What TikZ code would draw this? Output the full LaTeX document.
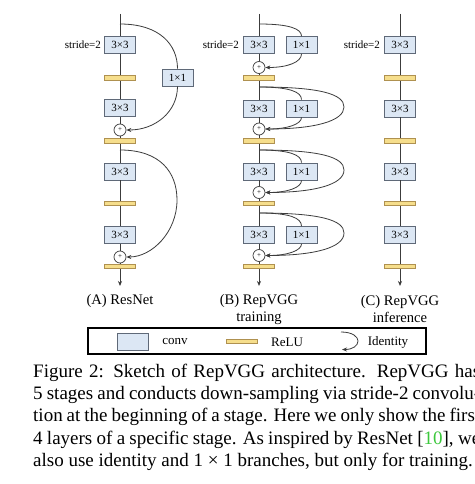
\documentclass[tikz,border=0pt]{standalone}
\usepackage{fontspec}
\setmainfont{Liberation Serif}
\usetikzlibrary{arrows.meta}
\definecolor{ln}{RGB}{60,60,60}
\definecolor{convfill}{RGB}{220,231,244}
\definecolor{convdraw}{RGB}{95,105,120}
\definecolor{relufill}{RGB}{246,222,140}
\definecolor{reludraw}{RGB}{175,145,80}
\definecolor{citegreen}{RGB}{60,200,60}
\tikzset{
  conv/.style={draw=convdraw, fill=convfill, minimum width=31pt, minimum height=17pt, inner sep=0pt, line width=0.8pt, font=\fontsize{11}{13}\selectfont},
  relu/.style={draw=reludraw, fill=relufill, minimum width=31pt, minimum height=4.5pt, inner sep=0pt, line width=0.8pt},
  addnode/.style={circle, draw=ln, fill=white, minimum size=12pt, inner sep=0pt, line width=0.7pt, font=\fontsize{7}{7}\selectfont},
  flow/.style={draw=ln, line width=0.8pt},
  flowend/.style={draw=ln, line width=0.8pt, -{Stealth[length=5pt,width=4pt]}},
  branch/.style={draw=ln, line width=0.8pt, -{Stealth[length=5pt,width=4pt]}},
  stridelabel/.style={anchor=east, inner sep=0pt, font=\fontsize{11}{13}\selectfont},
  sublabel/.style={inner sep=0pt, font=\fontsize{14.6}{17}\selectfont, align=center},
  legtext/.style={inner sep=0pt, font=\fontsize{13}{15}\selectfont},
  capline/.style={anchor=base west, inner sep=0pt, font=\fontsize{19}{22.4}\selectfont}
}
\begin{document}
\begin{tikzpicture}[x=1pt,y=-1pt]
\useasboundingbox (0,0) rectangle (474,484);
\fill[white] (0,0) rectangle (474,484);

% ---------------- (A) ResNet ----------------
\coordinate (aT) at (120,14);
\coordinate (as1) at (120,24);
\node[conv] (a1) at (120,45) {3×3};
\node[stridelabel] (as) at ([xshift=-3pt]a1.west) {stride=2};
\node[relu] (ar1) at (120,78) {};
\node[conv] (a2) at (120,108) {3×3};
\node[addnode] (ap1) at (120,130) {+};
\node[relu] (ar2) at (120,141) {};
\coordinate (as2) at (120,150);
\node[conv] (a3) at (120,171.5) {3×3};
\node[relu] (ar3) at (120,203.5) {};
\node[conv] (a4) at (120,235) {3×3};
\node[addnode] (ap2) at (120,257) {+};
\node[relu] (ar4) at (120,266.5) {};
\coordinate (aE) at (120,286);
\node[conv] (a11) at (177.5,77.5) {1×1};

\draw[flow] (aT) -- (a1) -- (ar1) -- (a2) -- (ap1) -- (ar2) -- (a3) -- (ar3) -- (a4) -- (ap2) -- (ar4);
\draw[flowend] (ar4) -- (aE);
\draw[flow] (as1) .. controls (160,24) and (177.5,45) .. (a11.north);
\draw[branch] (a11.south) .. controls (177.5,112) and (155,130) .. (ap1.east);
\draw[branch] (as2) .. controls (160,150) and (177,172) .. (177,200) .. controls (177,232) and (152,257) .. (ap2.east);

% ---------------- (B) RepVGG training ----------------
\coordinate (bT) at (259,14);
\coordinate (bs1) at (259,24);
\node[conv] (b1) at (259,45) {3×3};
\node[stridelabel] (bsl) at ([xshift=-4pt]b1.west) {stride=2};
\node[conv] (b11) at (301.5,45) {1×1};
\node[addnode] (bp1) at (259,67.5) {+};
\node[relu] (br1) at (259,78) {};
\coordinate (bs2) at (259,87);
\node[conv] (b2) at (259,108.5) {3×3};
\node[conv] (b21) at (301.5,108.5) {1×1};
\node[addnode] (bp2) at (259,129) {+};
\node[relu] (br2) at (259,141) {};
\coordinate (bs3) at (259,150);
\node[conv] (b3) at (259,171.5) {3×3};
\node[conv] (b31) at (301.5,171.5) {1×1};
\node[addnode] (bp3) at (259,192.5) {+};
\node[relu] (br3) at (259,203.5) {};
\coordinate (bs4) at (259,213);
\node[conv] (b4) at (259,235) {3×3};
\node[conv] (b41) at (301.5,235) {1×1};
\node[addnode] (bp4) at (259,255.5) {+};
\node[relu] (br4) at (259,266.5) {};
\coordinate (bE) at (259,286);

\draw[flow] (bT) -- (b1) -- (bp1) -- (br1) -- (b2) -- (bp2) -- (br2) -- (b3) -- (bp3) -- (br3) -- (b4) -- (bp4) -- (br4);
\draw[flowend] (br4) -- (bE);
% 1x1 branches
\draw[flow] (bs1) .. controls (290,24) and (301.5,29) .. (b11.north);
\draw[branch] (b11.south) .. controls (301.5,62) and (288,67.5) .. (bp1.east);
\draw[flow] (bs2) .. controls (290,87) and (301.5,92) .. (b21.north);
\draw[branch] (b21.south) .. controls (301.5,124) and (288,129) .. (bp2.east);
\draw[flow] (bs3) .. controls (290,150) and (301.5,155) .. (b31.north);
\draw[branch] (b31.south) .. controls (301.5,187.5) and (288,192.5) .. (bp3.east);
\draw[flow] (bs4) .. controls (290,213) and (301.5,218) .. (b41.north);
\draw[branch] (b41.south) .. controls (301.5,250.5) and (288,255.5) .. (bp4.east);
% identity branches
\draw[branch] (bs2) .. controls (320,87) and (344,94) .. (344,107) .. controls (344,121) and (315,129) .. (bp2.east);
\draw[branch] (bs3) .. controls (320,150) and (344,157) .. (344,170) .. controls (344,184.5) and (315,192.5) .. (bp3.east);
\draw[branch] (bs4) .. controls (320,213) and (344,220) .. (344,233) .. controls (344,247.5) and (315,255.5) .. (bp4.east);

% ---------------- (C) RepVGG inference ----------------
\coordinate (cT) at (400,14);
\node[conv] (c1) at (400,45) {3×3};
\node[stridelabel] (csl) at ([xshift=-4pt]c1.west) {stride=2};
\node[relu] (cr1) at (400,78) {};
\node[conv] (c2) at (400,108.5) {3×3};
\node[relu] (cr2) at (400,141) {};
\node[conv] (c3) at (400,171.5) {3×3};
\node[relu] (cr3) at (400,203.5) {};
\node[conv] (c4) at (400,235) {3×3};
\node[relu] (cr4) at (400,266.5) {};
\coordinate (cE) at (400,286);
\draw[flow] (cT) -- (c1) -- (cr1) -- (c2) -- (cr2) -- (c3) -- (cr3) -- (c4) -- (cr4);
\draw[flowend] (cr4) -- (cE);

% ---------------- sub labels ----------------
\node[sublabel] (la) at (120,301) {(A) ResNet};
\node[sublabel] (lb) at (259,309.5) {(B) RepVGG\\training};
\node[sublabel] (lc) at (400,309.5) {(C) RepVGG\\inference};

% ---------------- legend ----------------
\node[draw=black, line width=1.8pt, minimum width=338pt, minimum height=26pt, inner sep=0pt] (leg) at (257,341) {};
\node[conv, minimum width=31pt, minimum height=17pt] (lconv) at (132.5,341.5) {};
\node[legtext] (tconv) at (175,341) {conv};
\node[relu] (lrelu) at (242,341.5) {};
\node[legtext] (trelu) at (287,342) {ReLU};
\coordinate (li1) at (341,332);
\coordinate (li2) at (342,349.5);
\draw[branch] (li1) .. controls (353,332) and (358,337) .. (358,341) .. controls (358,345.5) and (353,349.5) .. (li2);
\node[legtext] (tid) at (388,342) {Identity};

% ---------------- caption ----------------
\node[capline] (cap1) at (33,377) {\hbox to 447pt{Figure 2: Sketch of RepVGG architecture.  RepVGG has}};
\node[capline] (cap2) at (33,399.4) {\hbox to 447pt{5 stages and conducts down-sampling via stride-2 convolu-}};
\node[capline] (cap3) at (33,421.8) {\hbox to 447pt{tion at the beginning of a stage. Here we only show the first}};
\node[capline] (cap4) at (33,444.2) {\hbox to 447pt{4 layers of a specific stage. As inspired by ResNet [\textcolor{citegreen}{10}], we}};
\node[capline] (cap5) at (33,466.6) {also use identity and 1\kern0.25em×\kern0.25em1 branches, but only for training.};
\end{tikzpicture}
\end{document}
